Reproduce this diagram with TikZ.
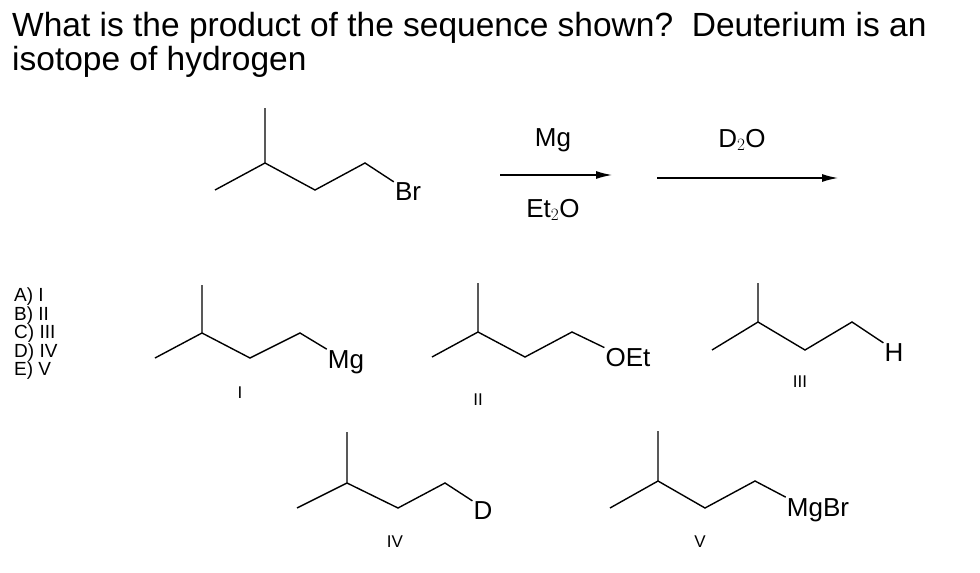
\documentclass[tikz,border=0pt]{standalone}
\usepackage{fontspec}
\usetikzlibrary{arrows.meta}
\setmainfont{Liberation Sans}
\begin{document}
\begin{tikzpicture}[x=1pt,y=-1pt,bond/.style={line width=1.4pt},
 lab/.style={font=\fontsize{26}{28}\selectfont,inner sep=1pt},
 small/.style={font=\fontsize{17}{19}\selectfont,inner sep=0pt},
 rxn/.style={line width=1.3pt,-{Latex[length=16pt,width=8pt]}}]
\useasboundingbox (0,0) rectangle (980,573);
\node[anchor=north west,align=left,font=\fontsize{33.5}{34}\selectfont,inner sep=0pt] (q) at (12,12)
 {What is the product of the sequence shown?\ \ Deuterium is an\\isotope of hydrogen};
% starting material
\coordinate (s1) at (265,108); \coordinate (s2) at (265,163); \coordinate (s3) at (215,190);
\coordinate (s4) at (315,190); \coordinate (s5) at (365,163);
\node[lab] (br) at (408,192) {Br};
\draw[bond] (s1)--(s2)--(s3) (s2)--(s4)--(s5)--(br.north west);
% arrows
\coordinate (a1) at (500,175); \coordinate (a2) at (612,175);
\draw[rxn] (a1)--(a2);
\node[lab] (mg) at (553,140) {Mg};
\node[lab] (et) at (553,210) {Et$_2$O};
\coordinate (b1) at (657,178); \coordinate (b2) at (838,178);
\draw[rxn] (b1)--(b2);
\node[lab] (d2o) at (742,140) {D$_2$O};
% choices
\node[anchor=north west,align=left,font=\fontsize{19}{18.5}\selectfont,inner sep=0pt] (ch) at (14,288)
 {A) I\\B) II\\C) III\\D) IV\\E) V};
% I
\coordinate (i1) at (202,285); \coordinate (i2) at (202,333); \coordinate (i3) at (155,358);
\coordinate (i4) at (250,358); \coordinate (i5) at (300,333);
\node[lab] (mgI) at (346,362) {Mg};
\draw[bond] (i1)--(i2)--(i3) (i2)--(i4)--(i5)--(mgI.north west);
\node[small] (lI) at (240,393) {I};
% II
\coordinate (j1) at (478,283); \coordinate (j2) at (478,332); \coordinate (j3) at (432,357);
\coordinate (j4) at (525,357); \coordinate (j5) at (572,332);
\node[lab] (oet) at (628,358) {OEt};
\draw[bond] (j1)--(j2)--(j3) (j2)--(j4)--(j5)--(oet.north west);
\node[small] (lII) at (478,400) {II};
% III
\coordinate (k1) at (758,283); \coordinate (k2) at (758,322); \coordinate (k3) at (712,350);
\coordinate (k4) at (805,350); \coordinate (k5) at (852,322);
\node[lab] (h) at (894,353) {H};
\draw[bond] (k1)--(k2)--(k3) (k2)--(k4)--(k5)--(h.north west);
\node[small] (lIII) at (800,382) {III};
% IV
\coordinate (l1) at (347,432); \coordinate (l2) at (347,483); \coordinate (l3) at (297,508);
\coordinate (l4) at (398,508); \coordinate (l5) at (445,483);
\node[lab] (d) at (483,511) {D};
\draw[bond] (l1)--(l2)--(l3) (l2)--(l4)--(l5)--(d.north west);
\node[small] (lIV) at (395,542) {IV};
% V
\coordinate (m1) at (658,431); \coordinate (m2) at (658,481); \coordinate (m3) at (610,508);
\coordinate (m4) at (705,508); \coordinate (m5) at (755,481);
\node[lab] (mgbr) at (818,510) {MgBr};
\draw[bond] (m1)--(m2)--(m3) (m2)--(m4)--(m5)--(mgbr.north west);
\node[small] (lV) at (700,542) {V};
\end{tikzpicture}
\end{document}
